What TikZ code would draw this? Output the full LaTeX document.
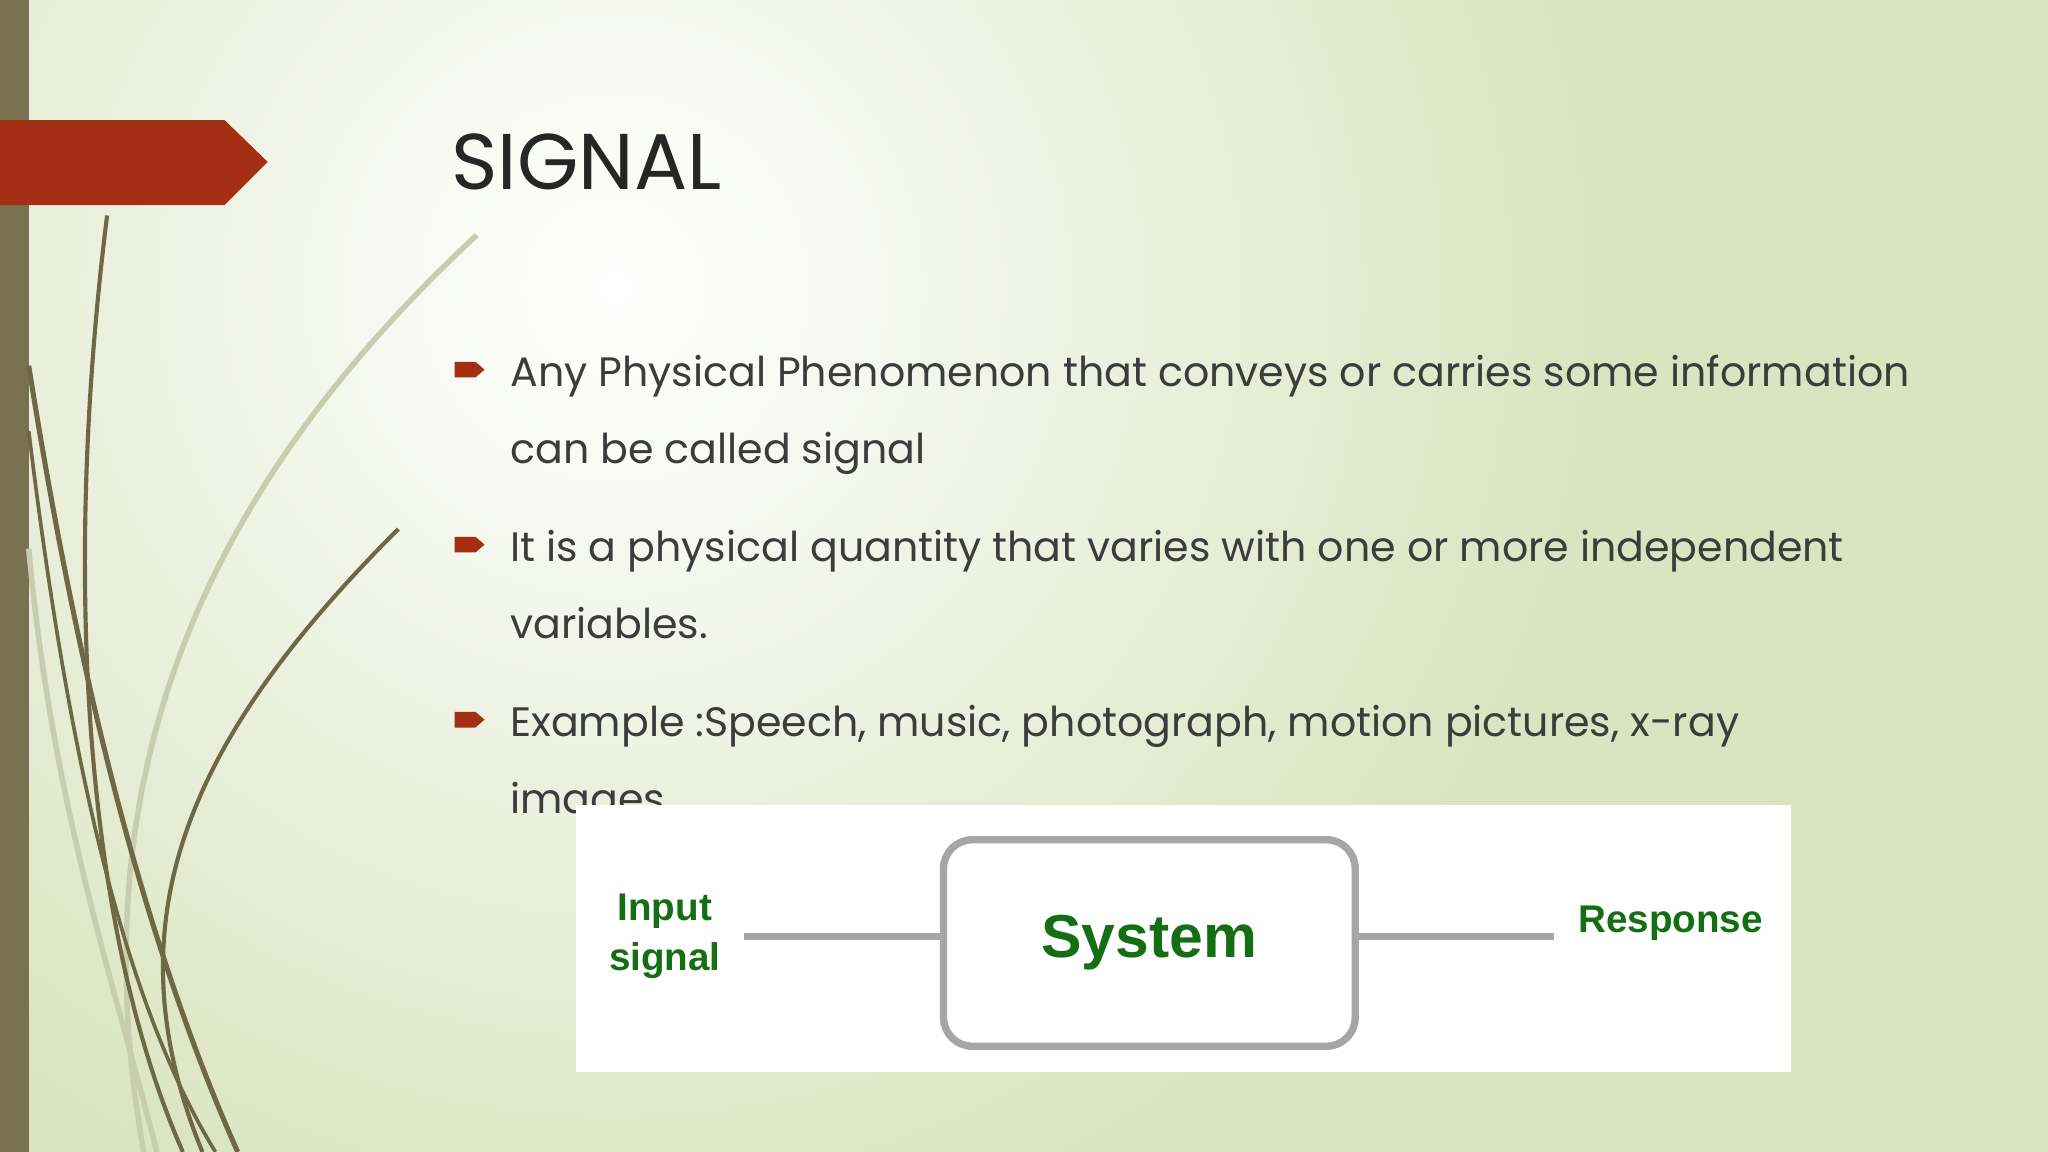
\documentclass[tikz,border=0pt]{standalone}
\usepackage{fontspec}
\setmainfont{Poppins}
\newfontfamily\labfont{Liberation Sans}
\definecolor{bg}{RGB}{218,228,192}
\definecolor{bar}{RGB}{122,113,80}
\definecolor{redc}{RGB}{165,47,21}
\definecolor{curve}{RGB}{110,104,70}
\definecolor{curvel}{RGB}{200,205,175}
\definecolor{grn}{RGB}{20,110,20}
\definecolor{txt}{RGB}{60,60,60}
\begin{document}
\begin{tikzpicture}[x=0.01cm,y=-0.01cm,
  body/.style={anchor=base west,inner sep=0,text=txt,font=\fontsize{8.95}{11}\selectfont},
  lab/.style={text=grn,font=\labfont\bfseries\fontsize{8.4}{10.8}\selectfont,align=center,inner sep=0},
  bul/.style={fill=redc}]
\useasboundingbox (0,0) rectangle (1568,882);
\fill[bg] (0,0) rectangle (1568,882);
\shade[inner color=white,outer color=bg] (470,220) circle (760);
\fill[bar] (0,0) rectangle (22,882);
\fill[redc] (0,92) -- (172,92) -- (205,124) -- (172,157) -- (0,157) -- cycle;
% curves
\draw[curvel,line width=1.2pt] (365,180) .. controls (150,380) and (60,600) .. (110,882);
\draw[curvel,line width=1.2pt] (22,420) .. controls (40,620) and (90,760) .. (120,882);
\draw[curve,line width=0.9pt] (82,165) .. controls (50,420) and (60,700) .. (140,882);
\draw[curve,line width=1.1pt] (22,280) .. controls (60,520) and (110,720) .. (182,882);
\draw[curve,line width=0.9pt] (305,405) .. controls (150,560) and (80,700) .. (155,882);
\draw[curve,line width=0.8pt] (22,330) .. controls (50,560) and (90,760) .. (165,882);
\node[anchor=base west,inner sep=0,text=black!85,font=\fontsize{17.2}{20}\selectfont] (title) at (345,145) {SIGNAL};
\foreach \y/\n in {283/b1,417/b2,551/b3}{
  \fill[bul] (348,\y-6) -- (364,\y-6) -- (371,\y) -- (364,\y+6) -- (348,\y+6) -- cycle;
}
\node[body] (t1) at (390,296) {Any Physical Phenomenon that conveys or carries some information};
\node[body] (t2) at (390,355) {can be called signal};
\node[body] (t3) at (390,430) {It is a physical quantity that varies with one or more independent};
\node[body] (t4) at (390,489) {variables.};
\node[body] (t5) at (390,564) {Example :Speech, music, photograph, motion pictures, x-ray};
\node[body] (t6) at (390,623) {images.};
\fill[white] (441,616) rectangle (1371,821);
\node[draw=gray!70,line width=1.6pt,rounded corners=0.22cm,minimum width=3.15cm,minimum height=1.58cm,
  text=grn,font=\labfont\bfseries\fontsize{13.2}{15}\selectfont] (sys) at (880,722) {System};
\node[lab] (in) at (509,717) {Input\\signal};
\node[lab] (out) at (1279,707) {Response};
\coordinate (a) at (570,717);
\coordinate (b) at (1190,717);
\draw[gray!70,line width=1.6pt] (a) -- (sys.west |- a);
\draw[gray!70,line width=1.6pt] (sys.east |- b) -- (b);
\end{tikzpicture}
\end{document}
